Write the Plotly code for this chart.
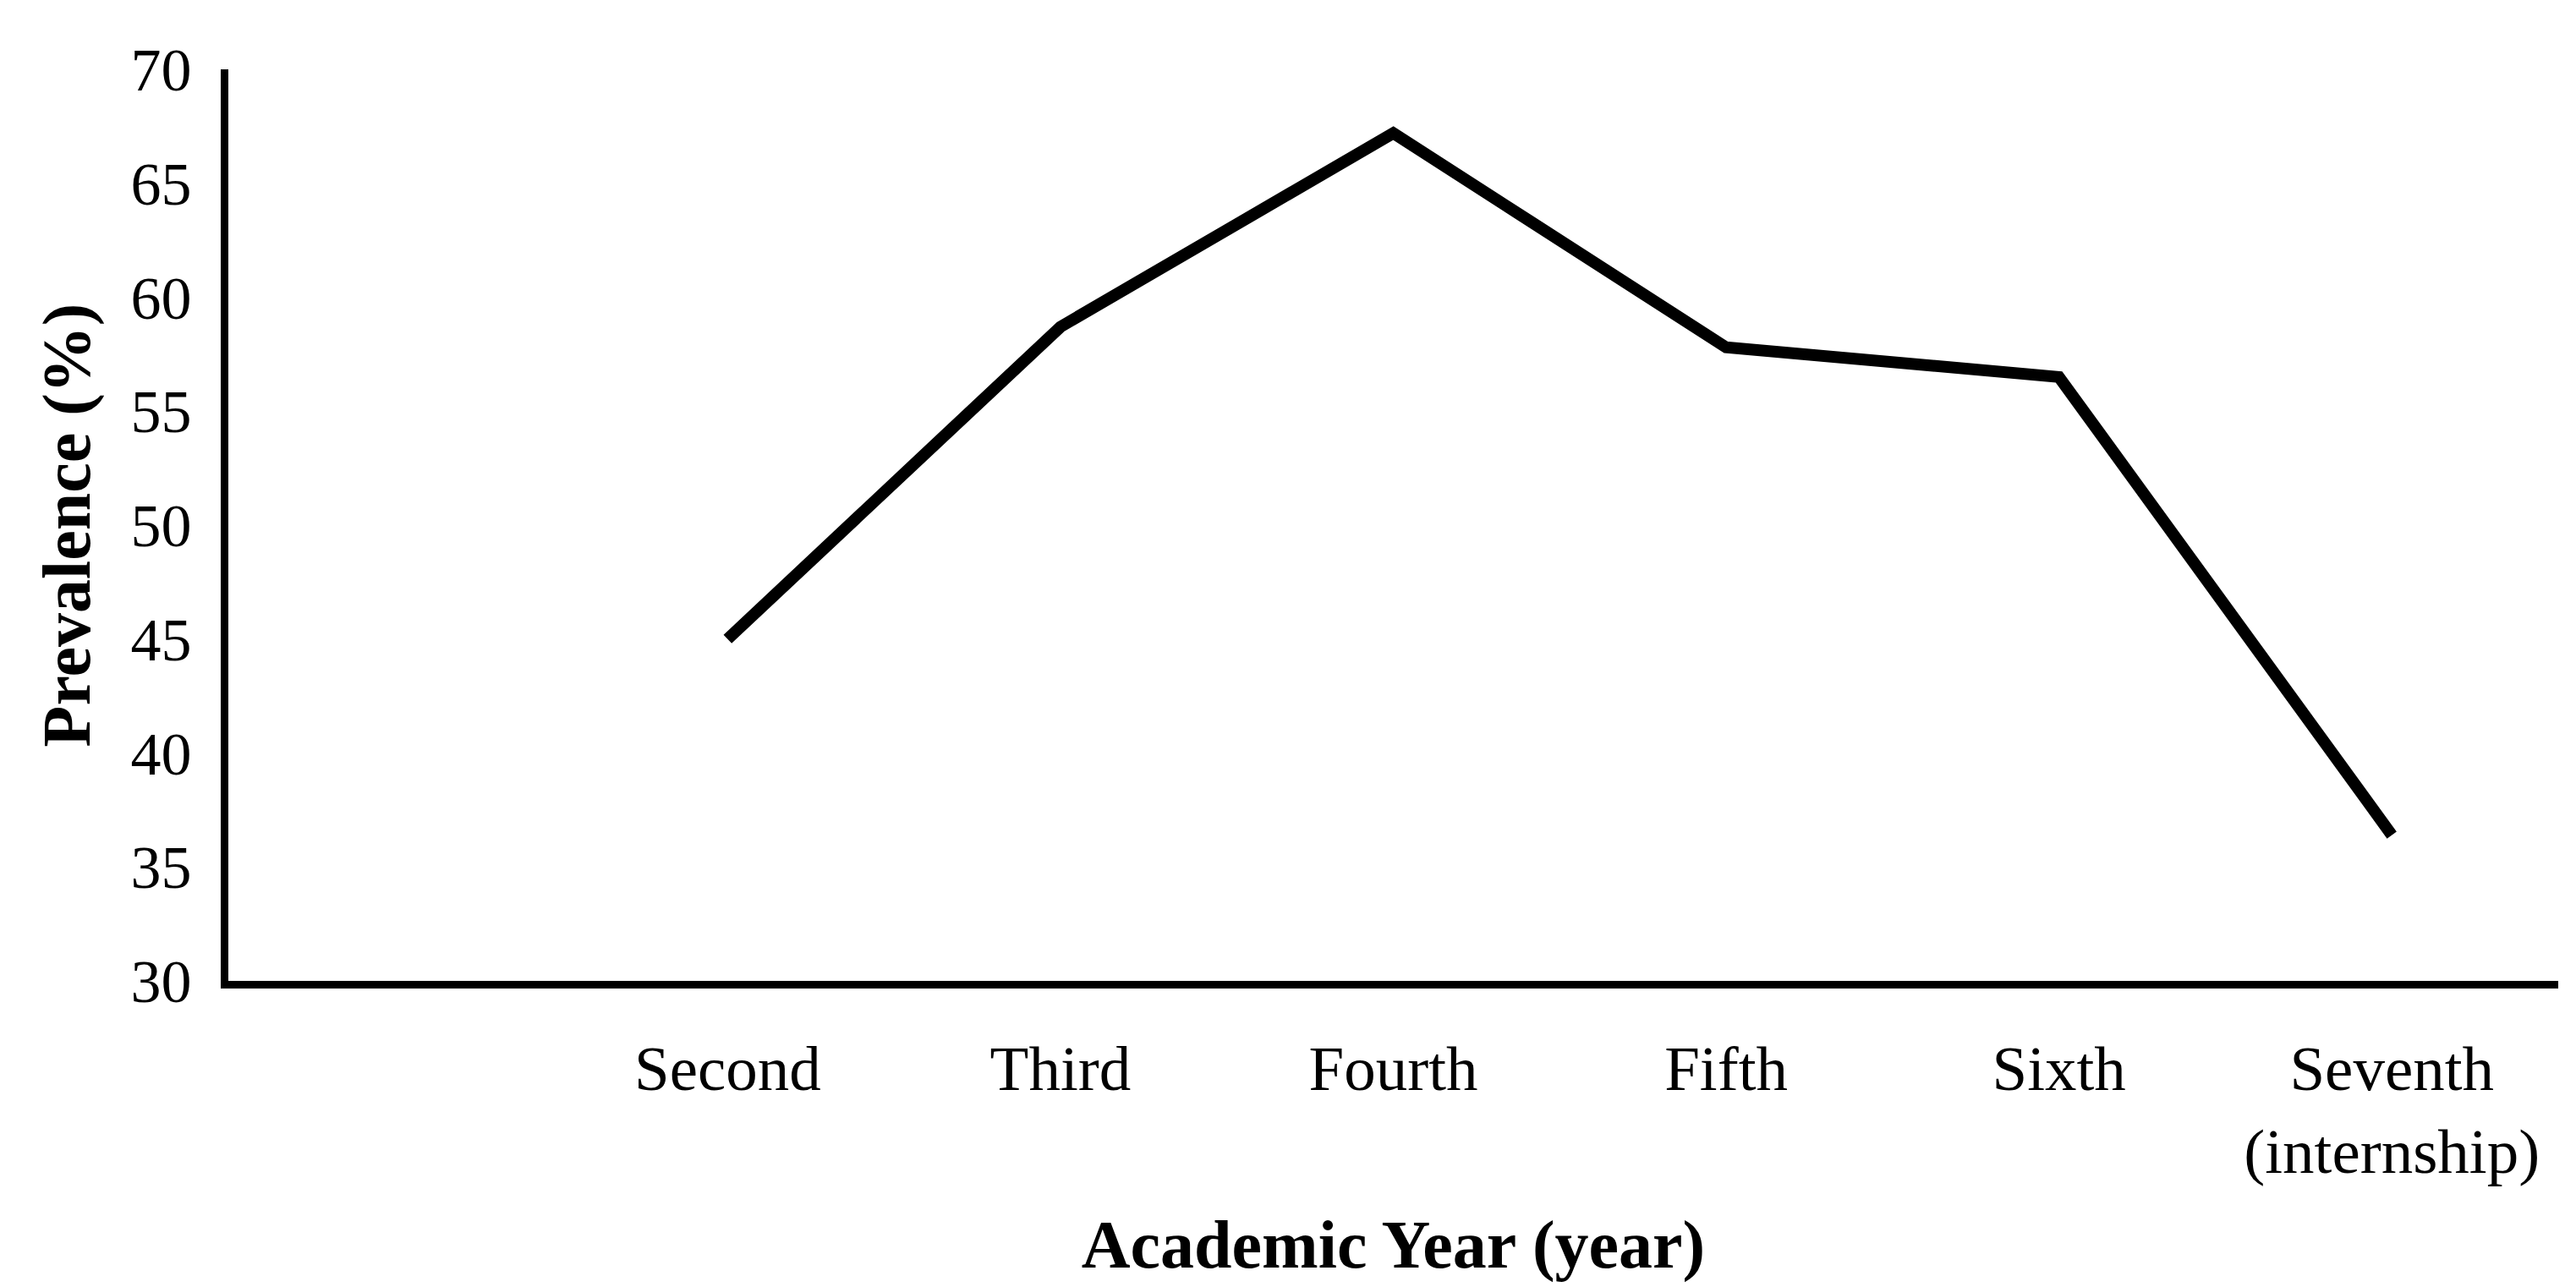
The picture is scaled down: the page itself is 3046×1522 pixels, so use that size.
import plotly.graph_objects as go

categories = ["", "Second", "Third", "Fourth", "Fifth", "Sixth", "Seventh<br>(internship)"]
positions = [0, 1, 2, 3, 4, 5, 6]
years = ["Second", "Third", "Fourth", "Fifth", "Sixth", "Seventh"]
year_pos = [1, 2, 3, 4, 5, 6]
prevalence = [45.0, 58.7, 67.2, 57.8, 56.5, 36.4]
yticks = [30, 35, 40, 45, 50, 55, 60, 65, 70]

font = "Liberation Serif"
fig = go.Figure(go.Scatter(x=year_pos, y=prevalence, mode="lines",
                           line=dict(color="black", width=14), hoverinfo="skip"))
fig.update_layout(
    width=3046, height=1522, plot_bgcolor="white", paper_bgcolor="white",
    margin=dict(l=262, r=29, t=74, b=370), showlegend=False,
    font=dict(family=font, size=75, color="black"),
)
fig.update_xaxes(range=[-0.5, 6.5], tickvals=positions, ticktext=categories,
                 showgrid=False, zeroline=False, showline=True, linecolor="black",
                 linewidth=9, ticks="", ticklabelstandoff=30,
                 title=dict(text="<b>Academic Year (year)</b>", font=dict(size=80), standoff=45))
fig.update_yaxes(range=[30, 70], tickvals=yticks, showgrid=False, zeroline=False,
                 showline=True, linecolor="black", linewidth=9, ticks="",
                 ticklabelstandoff=20, tickfont=dict(size=72),
                 title=dict(text="<b>Prevalence (%)</b>", font=dict(size=80), standoff=25))
fig.write_html("out.html")
